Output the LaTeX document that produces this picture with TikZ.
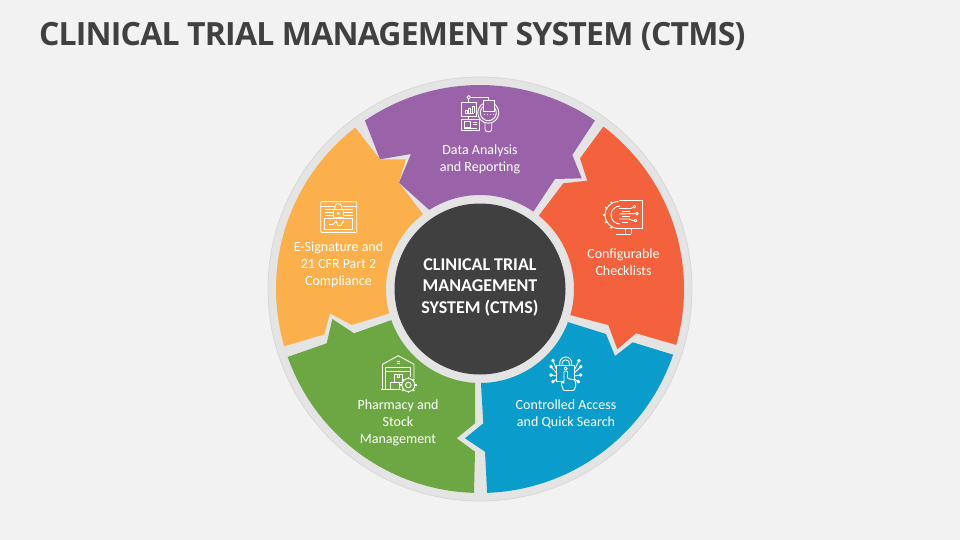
\documentclass[tikz,border=0pt]{standalone}
\usepackage{fontspec}
\setmainfont{Carlito}
\newfontfamily\titlefont[LetterSpace=-2.5]{Open Sans}
\definecolor{pagegrey}{HTML}{F2F2F2}
\definecolor{ringgrey}{HTML}{E4E4E4}
\definecolor{rimgrey}{HTML}{D8D8D8}
\definecolor{darkhub}{HTML}{404040}
\definecolor{segpurple}{HTML}{9A62A8}
\definecolor{segred}{HTML}{F4623D}
\definecolor{segblue}{HTML}{0A9DCB}
\definecolor{seggreen}{HTML}{6DA743}
\definecolor{segorange}{HTML}{FBB04C}
\newcommand{\outerx}{480+204*cos(\t)}
\newcommand{\outery}{289+204*sin(\t)}
\newcommand{\innerx}{480+94*cos(\t)}
\newcommand{\innery}{289+94*sin(\t)}
\tikzset{
    rimplot/.style={samples=40, variable=\t},
    seglabel/.style={text=white, align=center, font=\fontsize{14}{17}\selectfont},
    icon/.style={draw=white, line width=0.9pt, line join=round},
}
\begin{document}
\begin{tikzpicture}[x=1pt, y=-1pt]
    \useasboundingbox (0, 0) rectangle (960, 540);
    \fill [pagegrey] (0, 0) rectangle (960, 540);
    \node [anchor=west, text=darkhub, font=\titlefont\bfseries\fontsize{32}{36}\selectfont] (title) at (35.5, 36) {CLINICAL TRIAL MANAGEMENT SYSTEM (CTMS)};

    % wheel
    \fill [ringgrey, draw=rimgrey, line width=0.8pt] (480, 289) circle [radius=212];
    \fill [segpurple] (365, 120.7) -- plot [rimplot, domain=-124.3:-55.7] ({\outerx}, {\outery}) -- (572.3, 155) -- (581.7, 178.3) -- (555, 179) -- (534, 210.7) -- plot [rimplot, domain=-55.4:-122.7] ({\innerx}, {\innery}) -- (399, 182.7) -- (411, 154) -- (380, 159.3) -- cycle;
    \fill [segred] (603.3, 126.7) -- plot [rimplot, domain=-52.8:15.9] ({\outerx}, {\outery}) -- (636, 333.3) -- (617.3, 349.3) -- (608.3, 325) -- (570, 315) -- plot [rimplot, domain=16.1:-51.3] ({\innerx}, {\innery}) -- (563.3, 183.3) -- (587.3, 180.7) -- (580, 158.3) -- cycle;
    \fill [segblue] (566.7, 321.7) -- (606, 334) -- (615, 356) -- (632.7, 342.3) -- plot [rimplot, domain=18.8:88] ({\outerx}, {\outery}) -- (485, 451.7) -- (465, 438.3) -- (483.3, 423.3) -- (481, 384) -- plot [rimplot, domain=89.4:20.7] ({\innerx}, {\innery}) -- cycle;
    \fill [seggreen] (288.3, 356.7) -- (326.7, 343.3) -- (332.3, 319) -- (354, 333.3) -- (391.7, 320) -- plot [rimplot, domain=160.6:93] ({\innerx}, {\innery}) -- (475, 423.3) -- (456.7, 438.3) -- (475, 451.7) -- (474, 491.7) -- plot [rimplot, domain=91.7:160.6] ({\outerx}, {\outery}) -- cycle;
    \fill [segorange] (355, 127.3) -- (380, 159.3) -- (405.7, 159.3) -- (399, 182.7) -- (422.3, 213.3) -- plot [rimplot, domain=232.7:165] ({\innerx}, {\innery}) -- (351.7, 325) -- (330, 313.3) -- (324.3, 334.3) -- (285, 346) -- plot [rimplot, domain=163.7:232.3] ({\outerx}, {\outery}) -- cycle;
    \node [circle, fill=darkhub, minimum size=171pt, inner sep=0pt] (hub) at (480, 289) {};
    \node [text=white, align=center, font=\bfseries\fontsize{18}{21.5}\selectfont] (hubtext) at (480, 287) {CLINICAL TRIAL\\MANAGEMENT\\SYSTEM (CTMS)};

    % labels
    \node [seglabel] (analysis) at (480, 159.5) {Data Analysis\\and Reporting};
    \node [seglabel] (checklists) at (623.5, 262.5) {Configurable\\Checklists};
    \node [seglabel] (access) at (566, 414.5) {Controlled Access\\and Quick Search};
    \node [seglabel] (pharmacy) at (398, 423) {Pharmacy and\\Stock\\Management};
    \node [seglabel] (esign) at (338.5, 265) {E-Signature and\\21 CFR Part 2\\Compliance};

    % data analysis icon
    \draw [icon] (468.7, 97.3) circle [radius=1.8];
    \draw [icon] (470.5, 97.3) -- (488.3, 97.3) -- (488.3, 100.7);
    \draw [icon] (468.7, 99.1) -- (468.7, 102.3);
    \draw [icon] (461.7, 102.3) rectangle (476, 116.7);
    \draw [icon] (464.5, 113) -- (473.5, 113) (465, 113) -- (465, 110) -- (467, 110) -- (467, 113) (468.5, 113) -- (468.5, 108) -- (470.5, 108) -- (470.5, 113) (472, 113) -- (472, 106) -- (474, 106) -- (474, 113);
    \draw [icon] (468.7, 116.7) -- (468.7, 119);
    \draw [icon] (461.7, 119) rectangle (479, 130);
    \draw [icon] (464, 121) rectangle (470.5, 127);
    \draw [icon] (472.5, 122) -- (477, 122) (472.5, 124.5) -- (477, 124.5) (464, 128.5) -- (477, 128.5);
    \draw [icon] (488.3, 112.7) circle [radius=10.5];
    \draw [icon] (488.3, 112.7) circle [radius=8];
    \draw [icon, fill=segpurple] (483.3, 100.7) rectangle (494, 111.7);
    \draw [icon, dotted] (484, 114.5) -- (493, 114.5);
    \draw [icon, rounded corners=2.5pt] (485, 123) -- (485, 131.7) -- (491.7, 131.7) -- (491.7, 123);

    % checklists icon
    \draw [icon] (619, 200.7) -- (642.7, 200.7) -- (642.7, 228.3) -- (617.3, 228.3);
    \draw [icon] (625, 228.3) -- (625, 234) (631, 228.3) -- (631, 234);
    \draw [icon, line width=1.2pt] (616, 234.5) -- (631, 234.5);
    \draw [icon] (618.5, 201.5) arc [start angle=270, end angle=90, radius=13.5];
    \draw [icon] (620, 206) arc [start angle=270, end angle=90, radius=9];
    \foreach \gearang in {120, 150, 180, 210, 240}
        \draw [icon, line width=1.6pt] (618.5, 215) ++(\gearang:13.5) -- ++(\gearang:2);
    \draw [icon] (619, 208.5) -- (631, 208.5) -- (634, 206.7) -- (634.5, 206.7);
    \draw [icon] (619, 214) -- (636, 213.5);
    \draw [icon] (619, 219) -- (629, 219) -- (633, 220.5) -- (634.5, 220.5);
    \draw [icon] (622, 211) -- (630, 211) (622, 216.5) -- (630, 216.5) (622, 222) -- (628, 222);
    \draw [icon, fill=segred] (634.5, 206.7) circle [radius=1.4] (637, 213.5) circle [radius=1.4] (635.5, 220.5) circle [radius=1.4];

    % access icon
    \draw [icon] (559.7, 365) -- (559.7, 363) arc [start angle=180, end angle=360, radius=6] -- (571.7, 365);
    \draw [icon] (562, 365) -- (562, 363.5) arc [start angle=180, end angle=360, radius=3.7] -- (569.4, 365);
    \draw [icon] (556.7, 365) rectangle (574.3, 381.7);
    \foreach \padx/\pady/\tipx/\tipy in {556.7/370/553/360.7, 556.7/373/551/366.7, 556.7/376/551/375, 556.7/379/553/381.7, 574.3/370/579/360.7, 574.3/373/580.7/366.7, 574.3/376/580.7/375, 574.3/379/578.3/381.7}
        \draw [icon] (\padx, \pady) -- (\tipx, \tipy) circle [radius=1.4];
    \draw [icon, fill=segblue, rounded corners=1pt] (563.5, 390.5) -- (561, 383) -- (563, 382) -- (564, 384) -- (564, 371) -- (567.5, 371) -- (567.5, 378.5) -- (575, 380) -- (576, 385) -- (574, 390.5) -- cycle;
    \draw [icon] (565.7, 368.5) circle [radius=1.6];

    % pharmacy icon
    \draw [icon] (382.5, 389) -- (382.5, 364.3) -- (398.3, 355.7) -- (414, 364.3) -- (414, 378);
    \draw [icon] (380.5, 389) -- (401, 389);
    \draw [icon] (385.7, 389) -- (385.7, 367.5) -- (410, 367.5) -- (410, 377);
    \draw [icon] (385.7, 371) -- (410, 371);
    \draw [icon] (396.5, 361) -- (400, 361) (396.5, 363.5) -- (400, 363.5);
    \draw [icon] (394, 374) rectangle (402.5, 382);
    \draw [icon] (390, 382) rectangle (399, 389);
    \draw [icon] (397, 374) -- (397, 377) -- (399.5, 377) -- (399.5, 374);
    \draw [icon, fill=seggreen] (408.3, 385) circle [radius=6.5];
    \draw [icon] (408.3, 385) circle [radius=2.8];
    \foreach \gearang in {0, 45, ..., 315}
        \draw [icon, line width=1.6pt] (408.3, 385) ++(\gearang:6.5) -- ++(\gearang:1.8);

    % e-signature icon
    \draw [icon, rounded corners=0.8pt] (320.7, 201.7) rectangle (356.7, 232.3);
    \draw [icon] (320.7, 206) -- (334, 206) (343, 206) -- (356.7, 206);
    \draw [icon] (324.3, 218.3) rectangle (352.7, 229);
    \draw [icon] (329, 224.5) -- (333, 224.5) -- (336, 221.5) -- (338, 225.5) -- (341, 225.5) -- (343.5, 221);
    \draw [icon] (324.5, 209.5) -- (333, 209.5) (324.5, 212.5) -- (333, 212.5) (324.5, 215.5) -- (333, 215.5);
    \draw [icon] (344, 209.5) -- (352.5, 209.5) (344, 212.5) -- (352.5, 212.5) (344, 215.5) -- (352.5, 215.5);
    \draw [icon] (334.8, 209.3) -- (334.8, 207) arc [start angle=180, end angle=360, radius=3.5] -- (341.8, 209.3);
    \draw [icon, fill=segorange] (333.3, 209.3) rectangle (343.3, 217.3);
    \draw [icon] (338.3, 213.3) circle [radius=1];
\end{tikzpicture}
\end{document}
